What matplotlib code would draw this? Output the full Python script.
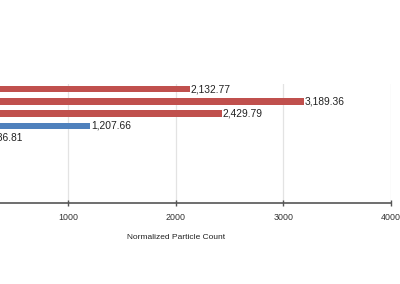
import matplotlib
matplotlib.use("Agg")
import matplotlib.pyplot as plt

plt.rcParams["font.family"] = ["Liberation Sans", "DejaVu Sans"]

C_RED = "#c0504d"
C_BLUE = "#4f81bd"

# bars from top to bottom
positions = [0, 1, 2, 3, 4]
values = [2132.77, 3189.36, 2429.79, 1207.66, 286.81]
colors = [C_RED, C_RED, C_RED, C_BLUE, C_BLUE]
xticks = [0, 1000, 2000, 3000, 4000]

fig = plt.figure(figsize=(4.0, 2.84), dpi=100)
ax = fig.add_axes([-0.0995, 0.285, 1.077, 0.419])

ax.barh(positions, values, height=0.55, color=colors, zorder=3)
for p, v in zip(positions, values):
    ax.text(v + 8, p, f"{v:,.2f}", va="center", ha="left", fontsize=7.4,
            color="#222222", zorder=4)

ax.set_xlim(0, 4000)
ax.set_ylim(9.27, -0.41)
ax.set_xticks(xticks)
ax.set_xticklabels([str(t) for t in xticks], fontsize=6.4, color="#333333")
ax.set_yticks([])
ax.grid(axis="x", color="#e3e3e3", lw=0.9, zorder=0)
ax.set_xlabel("Normalized Particle Count", fontsize=6, color="#222222", labelpad=8)

for s in ["top", "right", "left"]:
    ax.spines[s].set_visible(False)
ax.spines["bottom"].set_color("#555555")
ax.spines["bottom"].set_linewidth(1.2)
ax.tick_params(axis="x", direction="inout", length=5, width=1.0, color="#555555", pad=5)

fig.savefig("out.png", dpi=100)
